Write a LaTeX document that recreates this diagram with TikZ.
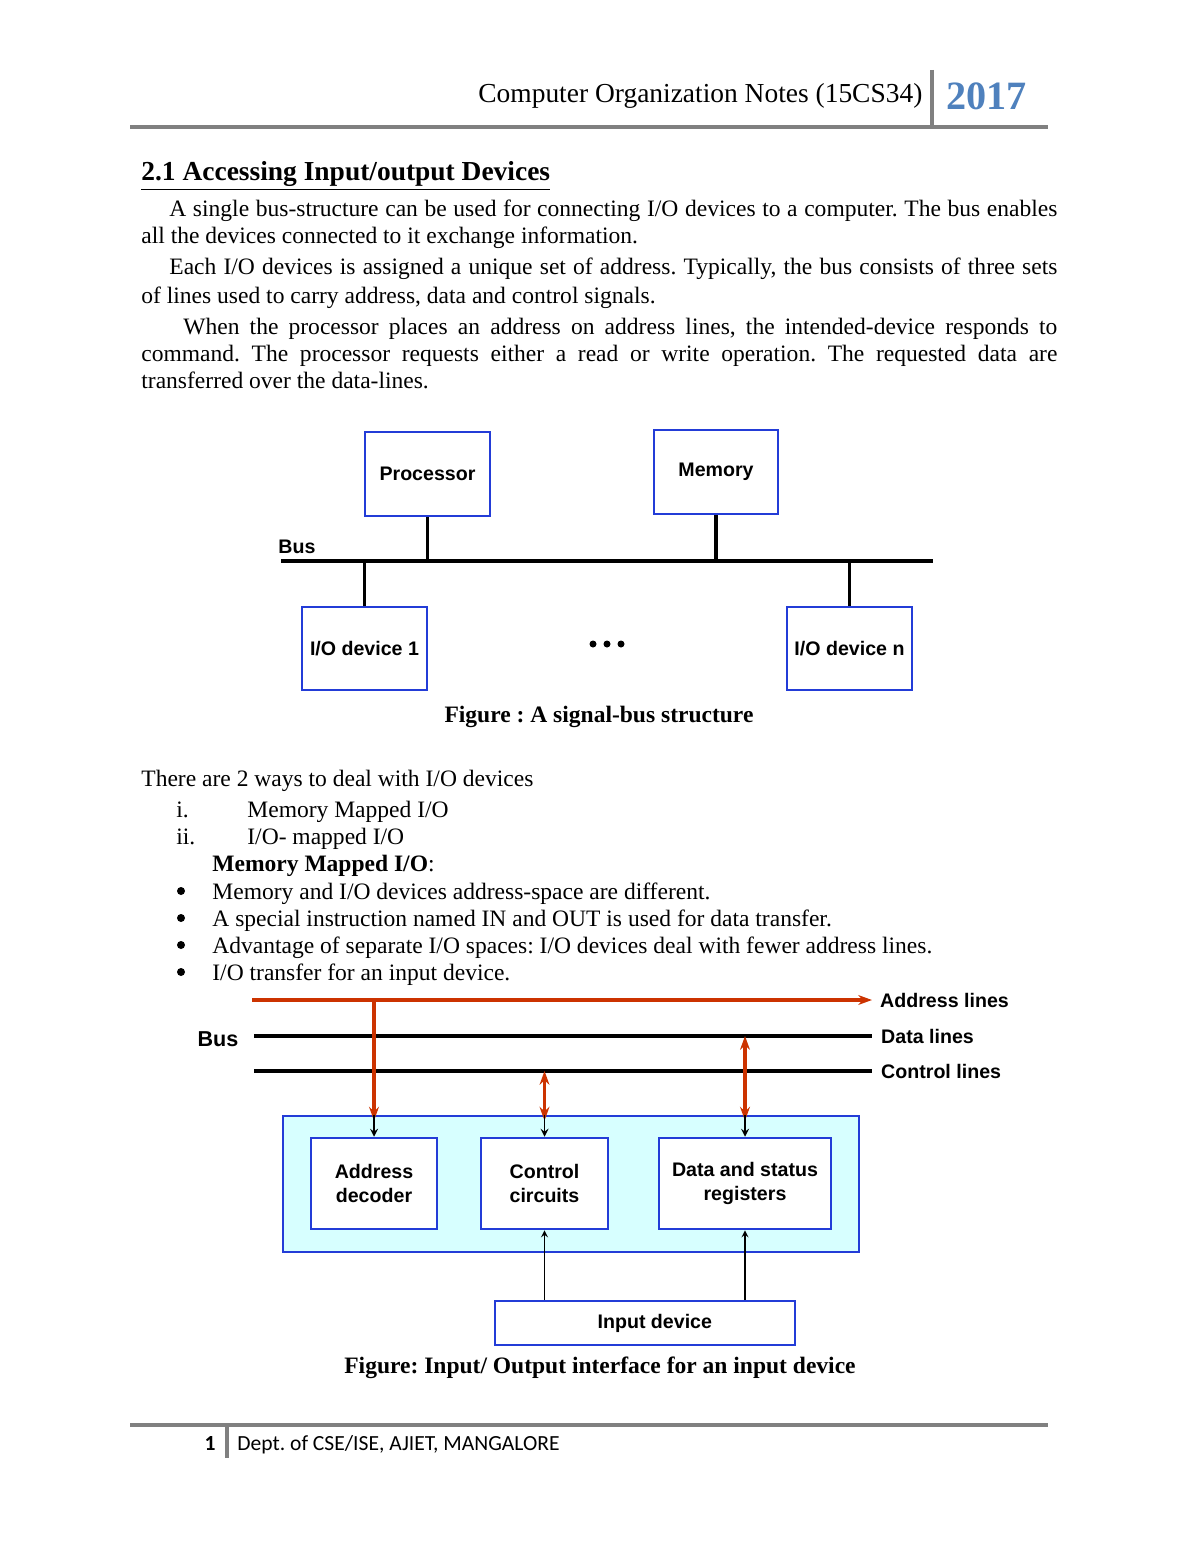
\documentclass[tikz,border=0pt]{standalone}
\usepackage{fontspec}
\setmainfont{Liberation Serif}
\setsansfont{Liberation Sans}
\newfontfamily\calibri{Carlito}
\usetikzlibrary{arrows, arrows.meta, calc, positioning}
\definecolor{boxblue}{RGB}{35,60,215}
\definecolor{addrred}{RGB}{204,51,0}
\definecolor{cyanfill}{RGB}{215,255,255}
\definecolor{rulegray}{RGB}{128,128,128}
\definecolor{yearblue}{RGB}{79,129,189}
\newcommand\pxu{0.51pt}
\newcommand\jline[2]{\makebox[\dimexpr\pxu*#1\relax][s]{#2}}
\frenchspacing
\tikzset{
  txt/.style={anchor=base west, inner sep=0pt, font=\fontsize{12}{14}\selectfont},
  figcap/.style={inner sep=0pt, font=\fontsize{12}{14}\selectfont\bfseries},
  lbl/.style={inner sep=0pt, font=\sffamily\bfseries\fontsize{10}{12}\selectfont},
  box/.style 2 args={minimum width=#1*\pxu, minimum height=#2*\pxu},
  blk/.style={draw=boxblue, line width=1.3pt, fill=white, inner sep=0pt, align=center,
    font=\sffamily\bfseries\fontsize{10}{12}\selectfont},
  busline/.style={line width=1.6pt},
  redarrow/.style={addrred, line width=1.8pt, arrows={-Stealth[length=7pt, width=5pt]}},
  redboth/.style={addrred, line width=1.8pt, arrows={Stealth[length=7pt, width=5pt]-Stealth[length=7pt, width=5pt]}},
  rule/.style={rulegray, line width=2pt}
}
\begin{document}
\begin{tikzpicture}[x=\pxu, y=-\pxu, >={stealth}]
  \fill[white] (0,0) rectangle (1200,1553);
  \useasboundingbox (0,0) rectangle (1200,1553);

  % header
  \node[txt, font=\fontsize{14}{16}\selectfont] (title) at (478,103) {Computer Organization Notes (15CS34)};
  \draw[rule] (932,70) -- (932,125);
  \node[txt, font=\fontsize{20.5}{22}\selectfont\bfseries, text=yearblue] (year) at (946,110) {2017};
  \draw[rule] (130,127) -- (1048,127);

  % section text
  \node[txt, font=\fontsize{14}{16}\selectfont\bfseries] (sec) at (141,181) {\underline{2.1 Accessing Input/output Devices}};
  \node[txt] (p1a) at (169,217) {\jline{888}{A single bus-structure can be used for connecting I/O devices to a computer. The bus enables}};
  \node[txt] (p1b) at (141,244) {all the devices connected to it exchange information.};
  \node[txt] (p2a) at (169,275) {\jline{888}{Each I/O devices is assigned a unique set of address. Typically, the bus consists of three sets}};
  \node[txt] (p2b) at (141,303) {of lines used to carry address, data and control signals.};
  \node[txt] (p3a) at (183,334) {\jline{874}{When the processor places an address on address lines, the intended-device responds to}};
  \node[txt] (p3b) at (141,361) {\jline{916}{command. The processor requests either a read or write operation. The requested data are}};
  \node[txt] (p3c) at (141,388) {transferred over the data-lines.};

  % single bus structure
  \node[blk, box={125}{84}] (proc) at (427.5,474) {Processor};
  \node[blk, box={124}{84}] (mem) at (716,472) {Memory};
  \node[blk, box={125}{83}] (io1) at (364.5,648.5) {I/O device 1};
  \node[blk, box={125}{83}] (ion) at (849.5,648.5) {I/O device n};
  \coordinate (busL) at (281,561);
  \coordinate (busR) at (933,561);
  \draw[line width=2pt] (busL) -- (busR);
  \node[lbl, anchor=base west] (bus1) at (278,553) {Bus};
  \draw[busline] (proc.south) -- (proc.south |- busL);
  \draw[busline] (mem.south) -- (mem.south |- busL);
  \draw[busline] (io1.north) -- (io1.north |- busL);
  \draw[busline] (ion.north) -- (ion.north |- busL);
  \foreach \dx in {593,607,621}
    \fill (\dx,644) circle (3.5);
  \node[figcap] (cap1) at (599,717) {Figure : A signal-bus structure};

  % list
  \node[txt] (ways) at (141,786) {There are 2 ways to deal with I/O devices};
  \node[txt] (wi) at (176,817) {i.};
  \node[txt] (wia) at (247,817) {Memory Mapped I/O};
  \node[txt] (wii) at (176,844) {ii.};
  \node[txt] (wiia) at (247,844) {I/O- mapped I/O};
  \node[txt] (mmio) at (212,871) {\textbf{Memory Mapped I/O}:};
  \foreach \by/\btext [count=\bi] in {899/{Memory and I/O devices address-space are different.},
      926/{A special instruction named IN and OUT is used for data transfer.},
      953/{Advantage of separate I/O spaces: I/O devices deal with fewer address lines.},
      980/{I/O transfer for an input device.}} {
    \fill (181,\by-8) circle (4);
    \node[txt] (item\bi) at (212,\by) {\btext};
  }

  % input interface
  \coordinate (addrL) at (252,1000);
  \coordinate (addrR) at (872,1000);
  \coordinate (dataL) at (254,1036);
  \coordinate (dataR) at (872,1036);
  \coordinate (ctlL) at (254,1071);
  \coordinate (ctlR) at (872,1071);
  \draw[redarrow] (addrL) -- (addrR);
  \draw[busline] (dataL) -- (dataR);
  \draw[busline] (ctlL) -- (ctlR);
  \node[lbl, anchor=west] (addrlbl) at ([xshift=4pt]addrR) {Address lines};
  \node[lbl, anchor=west] (datalbl) at ([xshift=4.5pt]dataR) {Data lines};
  \node[lbl, anchor=west] (ctllbl) at ([xshift=4.5pt]ctlR) {Control lines};
  \node[lbl, font=\sffamily\bfseries\fontsize{11}{13}\selectfont] (bus2) at (218,1039) {Bus};

  \node[draw=boxblue, fill=cyanfill, line width=1.3pt, box={576}{136}] (iface) at (571,1184) {};
  \node[blk, box={126}{91}] (dec) at (374,1183.5) {Address\\decoder};
  \node[blk, box={127}{91}] (ctrl) at (544.5,1183.5) {Control\\circuits};
  \node[blk, box={172}{91}] (regs) at (745,1183.5) {Data and status\\registers};
  \node[blk, box={300}{44}] (inp) at (645,1323) {\hspace*{10pt}Input device};

  \draw[redarrow] (dec.north |- addrL) -- ([yshift=-3pt]dec.north |- iface.north);
  \draw[redboth] (ctrl.north |- ctlL) -- ([yshift=-3pt]ctrl.north |- iface.north);
  \draw[redboth] (regs.north |- dataL) -- ([yshift=-3pt]regs.north |- iface.north);
  \draw[->, thick] (dec.north |- iface.north) -- (dec.north);
  \draw[->, thick] (ctrl.north |- iface.north) -- (ctrl.north);
  \draw[->, thick] (regs.north |- iface.north) -- (regs.north);
  \draw[->, semithick] (ctrl.south |- inp.north) -- (ctrl.south);
  \draw[->, semithick] (regs.south |- inp.north) -- (regs.south);
  \node[figcap] (cap2) at (600,1368) {Figure: Input/ Output interface for an input device};

  % footer
  \draw[rule] (130,1425) -- (1048,1425);
  \draw[rule] (227,1425) -- (227,1458);
  \node[anchor=base east, inner sep=0pt, font=\calibri\bfseries\fontsize{11}{13}\selectfont] (pgnum) at (216,1450) {1};
  \node[anchor=base west, inner sep=0pt, font=\calibri\fontsize{11}{13}\selectfont] (dept) at (237,1450) {Dept. of CSE/ISE, AJIET, MANGALORE};
\end{tikzpicture}
\end{document}
